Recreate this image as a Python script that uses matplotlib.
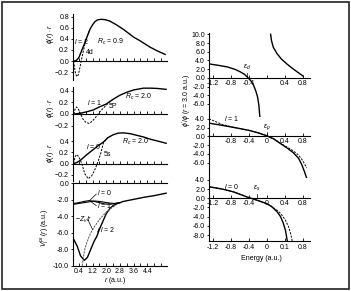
import matplotlib
matplotlib.use("Agg")
import matplotlib.pyplot as plt
from matplotlib.patches import Rectangle

plt.rcParams['font.family'] = ['Liberation Sans', 'DejaVu Sans']
plt.rcParams['mathtext.fontset'] = 'custom'
plt.rcParams['mathtext.rm'] = 'Liberation Sans'
plt.rcParams['mathtext.it'] = 'Liberation Sans:italic'
plt.rcParams['font.size'] = 5

# ---- data ----
# left column: radial functions phi(r)*r, pseudo (solid) and all-electron (dashed)
r_4d = [0.1, 0.25, 0.4, 0.57, 0.7, 0.86, 1.05, 1.2, 1.35, 1.5, 1.7, 1.9, 2.2, 2.6, 3.0, 3.6, 4.0, 4.56, 5.0, 5.44]
ps_4d = [0.0, 0.01, 0.06, 0.19, 0.29, 0.42, 0.57, 0.65, 0.71, 0.74, 0.75, 0.745, 0.72, 0.65, 0.57, 0.43, 0.36, 0.25, 0.18, 0.12]
r_4d_ae = [0.1, 0.15, 0.22, 0.3, 0.38, 0.46, 0.55, 0.65, 0.75, 0.86, 1.05]
ae_4d = [0.0, -0.12, -0.24, -0.28, -0.24, -0.12, 0.02, 0.16, 0.3, 0.42, 0.57]

r_5p = [0.1, 0.3, 0.6, 0.9, 1.25, 1.6, 2.0, 2.4, 2.8, 3.2, 3.6, 4.17, 4.6, 5.0, 5.5]
ps_5p = [0.0, 0.005, 0.02, 0.04, 0.07, 0.12, 0.17, 0.25, 0.32, 0.37, 0.41, 0.44, 0.44, 0.435, 0.42]
r_5p_ae = [0.1, 0.18, 0.27, 0.38, 0.5, 0.65, 0.8, 1.0, 1.2, 1.4, 1.6, 1.8, 2.0, 2.2, 2.4]
ae_5p = [0.0, 0.08, 0.12, 0.08, 0.0, -0.09, -0.14, -0.16, -0.12, -0.05, 0.03, 0.09, 0.15, 0.21, 0.25]

r_5s = [0.1, 0.3, 0.5, 0.8, 1.0, 1.25, 1.5, 1.83, 2.1, 2.4, 2.7, 3.0, 3.4, 3.8, 4.2, 4.6, 5.0, 5.5]
ps_5s = [0.0, 0.02, 0.06, 0.14, 0.19, 0.25, 0.31, 0.38, 0.46, 0.51, 0.54, 0.545, 0.53, 0.5, 0.47, 0.43, 0.4, 0.36]
r_5s_ae = [0.1, 0.18, 0.27, 0.4, 0.57, 0.75, 0.95, 1.15, 1.35, 1.54, 1.7, 1.83, 2.0, 2.1]
ae_5s = [0.0, 0.12, 0.16, 0.12, 0.0, -0.18, -0.27, -0.22, -0.1, 0.05, 0.2, 0.36, 0.43, 0.46]

# pseudopotentials V_l(r)
r_v = [0.1, 0.3, 0.5, 0.72, 0.9, 1.1, 1.3, 1.44, 1.6, 1.83, 2.0, 2.22, 2.4, 2.6, 3.0, 3.6, 4.2, 4.8, 5.5]
v_l2 = [-6.8, -7.6, -8.8, -9.35, -9.0, -8.0, -7.0, -6.5, -5.6, -4.5, -3.7, -3.05, -2.7, -2.5, -2.2, -1.95, -1.7, -1.5, -1.2]
r_v01 = [0.1, 0.4, 0.7, 1.0, 1.3, 1.6, 1.9, 2.2, 2.5, 2.8]
v_l0 = [-2.45, -2.35, -2.2, -2.1, -2.2, -2.35, -2.5, -2.55, -2.45, -2.35]
v_l1 = [-2.55, -2.45, -2.35, -2.25, -2.15, -2.2, -2.3, -2.4, -2.45, -2.35]
r_zv = [0.6, 0.68, 0.76, 0.9, 1.1, 1.3, 1.64, 2.0, 2.3, 2.6]
v_zv = [-10.0, -8.8, -7.9, -7.0, -6.0, -5.3, -4.3, -3.5, -3.0, -2.6]

# right column: logarithmic derivatives vs energy
e_d_lo = [-1.29, -1.1, -0.88, -0.7, -0.6, -0.5, -0.42, -0.35, -0.3, -0.25, -0.21, -0.18, -0.16]
ld_d_lo = [3.2, 2.9, 2.5, 1.9, 1.4, 0.8, 0.0, -0.8, -1.7, -3.0, -4.4, -6.4, -9.0]
e_d_hi = [0.08, 0.1, 0.14, 0.22, 0.32, 0.44, 0.56, 0.68, 0.8]
ld_d_hi = [10.0, 8.5, 7.0, 5.6, 4.3, 3.2, 2.2, 1.3, 0.4]

e_p = [-1.29, -1.0, -0.7, -0.4, -0.2, 0.0, 0.15, 0.29, 0.45, 0.58, 0.7, 0.77, 0.83, 0.88]
ld_p_ps = [3.0, 2.5, 1.95, 1.35, 0.8, 0.1, -0.6, -1.6, -2.7, -3.7, -5.0, -6.4, -8.0, -9.5]
ld_p_ae = [4.0, 2.7, 1.95, 1.35, 0.8, 0.1, -0.6, -1.5, -2.5, -3.3, -4.3, -5.2, -6.2, -7.2]

e_s_ps = [-1.29, -1.0, -0.75, -0.45, -0.2, 0.0, 0.1, 0.22, 0.3, 0.36, 0.41, 0.45]
ld_s_ps = [2.5, 2.0, 1.4, 0.3, -0.5, -1.2, -1.8, -2.9, -4.0, -5.4, -7.0, -9.3]
e_s_ae = [-1.29, -1.0, -0.75, -0.45, -0.2, 0.0, 0.1, 0.22, 0.3, 0.4, 0.47, 0.52, 0.56]
ld_s_ae = [2.5, 2.0, 1.4, 0.3, -0.5, -1.2, -1.8, -2.6, -3.3, -4.6, -6.0, -7.5, -9.3]

e_ticks = [-1.2, -0.8, -0.4, 0.0, 0.4, 0.8]

W, H = 351, 291
fig = plt.figure(figsize=(W / 100, H / 100), dpi=100)


def px_axes(x0, y0, x1, y1):
    return fig.add_axes([x0 / W, 1 - y1 / H, (x1 - x0) / W, (y1 - y0) / H])


def style(ax, zero=True):
    ax.patch.set_alpha(0)
    ax.spines['top'].set_visible(False)
    ax.spines['right'].set_visible(False)
    if zero:
        ax.spines['bottom'].set_position(('data', 0))
    for s in ax.spines.values():
        s.set_linewidth(0.8)
    ax.tick_params(axis='y', direction='out', length=1.8, width=0.6, pad=1, labelsize=5)
    ax.tick_params(axis='x', direction='in', length=2, width=0.6, pad=1.5, labelsize=5)


solid = dict(color='black', lw=1.0)
dash = dict(color='black', lw=0.7, ls=(0, (2.2, 1.3)))
rlim = (0.06, 5.55)
r_minor = [0.4 * i for i in range(1, 14)]

# --- left panel 1: 4d ---
ax = px_axes(73, 14, 167, 80)
ax.plot(r_4d, ps_4d, **solid)
ax.plot(r_4d_ae, ae_4d, **dash)
ax.set_xlim(rlim); ax.set_ylim(-0.34, 0.845)
style(ax)
ax.set_yticks([-0.2, 0, 0.2, 0.4, 0.6, 0.8])
ax.set_xticks(r_minor); ax.set_xticklabels([])
ax.text(0.1, 0.35, '$l$ = 2', va='center')
ax.text(1.45, 0.35, '$R_c$ = 0.9', va='center')
ax.text(0.82, 0.15, '4d', va='center')

# --- left panel 2: 5p ---
ax = px_axes(73, 87, 167, 131)
ax.plot(r_5p, ps_5p, **solid)
ax.plot(r_5p_ae, ae_5p, **dash)
ax.set_xlim(rlim); ax.set_ylim(-0.29, 0.46)
style(ax)
ax.set_yticks([-0.2, 0, 0.2, 0.4])
ax.set_xticks(r_minor); ax.set_xticklabels([])
ax.text(0.86, 0.19, '$l$ = 1', va='center')
ax.text(3.1, 0.29, '$R_c$ = 2.0', va='center')
ax.text(2.12, 0.12, '5P', va='center')

# --- left panel 3: 5s ---
ax = px_axes(73, 132, 167, 181)
ax.plot(r_5s, ps_5s, **solid)
ax.plot(r_5s_ae, ae_5s, **dash)
ax.set_xlim(rlim); ax.set_ylim(-0.31, 0.56)
style(ax)
ax.set_yticks([-0.2, 0, 0.2, 0.4])
ax.set_xticks(r_minor); ax.set_xticklabels([])
ax.text(0.82, 0.3, '$l$ = 0', va='center')
ax.text(2.9, 0.38, '$R_c$ = 2.0', va='center')
ax.text(1.83, 0.16, '5s', va='center')

# --- left panel 4: pseudopotentials ---
ax = px_axes(73, 183.3, 167, 265.7)
ax.plot(r_v, v_l2, **solid)
ax.plot(r_v01, v_l0, color='black', lw=0.8)
ax.plot(r_v01, v_l1, color='black', lw=0.8)
ax.plot(r_zv, v_zv, color='#555555', lw=0.7, ls=(0, (2.2, 1.0)))
ax.set_xlim(rlim); ax.set_ylim(-10.0, 0.0)
style(ax, zero=False)
ax.set_yticks([-10, -8, -6, -4, -2, 0])
ax.set_yticklabels(['-10.0', '-8.0', '-6.0', '-4.0', '-2.0', '0.0'])
ax.set_xticks(r_minor)
ax.set_xticklabels(['%.1f' % t if i % 2 == 0 and t < 5 else '' for i, t in enumerate(r_minor)])
top = ax.secondary_xaxis('top')
top.set_xticks(r_minor); top.set_xticklabels([])
top.tick_params(direction='out', length=2, width=0.6)
top.spines['top'].set_linewidth(0.8)
ax.text(1.45, -1.1, '$l$ = 0', va='center')
ax.plot([1.42, 1.05], [-1.3, -2.05], color='black', lw=0.5)
ax.text(1.45, -2.75, '$l$ = 1', va='center')
ax.plot([1.42, 1.15], [-2.7, -2.3], color='black', lw=0.5)
ax.text(0.2, -4.4, '$-Z_v/r$', va='center')
ax.plot([0.95, 1.2], [-4.5, -5.6], color='black', lw=0.5)
ax.text(1.64, -5.6, '$l$ = 2', va='center')
ax.plot([1.6, 1.5], [-5.4, -5.9], color='black', lw=0.5)

fig.text(50 / W, 1 - 34 / H, r'$\phi(r)\cdot r$', rotation=90, ha='center', va='center')
fig.text(50 / W, 1 - 108 / H, r'$\phi(r)\cdot r$', rotation=90, ha='center', va='center')
fig.text(50 / W, 1 - 153 / H, r'$\phi(r)\cdot r$', rotation=90, ha='center', va='center')
fig.text(45 / W, 1 - 228 / H, r'$V_l^{ps}\,(r)$ (a.u.)', rotation=90, ha='center', va='center')
fig.text(115 / W, 1 - 280 / H, '$r$ (a.u.)', ha='center', va='center')

# --- right panel 1: d ---
elim = (-1.29, 0.955)
ax = px_axes(209, 33, 310, 117)
ax.plot(e_d_lo, ld_d_lo, **solid)
ax.plot(e_d_hi, ld_d_hi, **solid)
ax.set_xlim(elim); ax.set_ylim(-9.0, 10.3)
style(ax)
ax.set_yticks([-6, -4, -2, 0, 2, 4, 6, 8, 10])
ax.set_yticklabels(['%.1f' % t for t in [-6, -4, -2, 0, 2, 4, 6, 8, 10]])
ax.set_xticks(e_ticks)
ax.set_xticklabels(['-1.2', '-0.8', '-0.4', '', '0.4', '0.8'])
ax.text(-0.44, 2.3, r'$\varepsilon_d$', ha='center', va='center')
ax.plot([-0.44, -0.44], [0, 1.0], color='black', lw=0.5)

# --- right panel 2: p ---
ax = px_axes(209, 117, 310, 178)
ax.plot(e_p, ld_p_ps, **solid)
ax.plot(e_p, ld_p_ae, **dash)
ax.set_xlim(elim); ax.set_ylim(-9.5, 4.4)
style(ax)
ax.set_yticks([-6, -4, -2, 0, 2, 4])
ax.set_yticklabels(['%.1f' % t for t in [-6, -4, -2, 0, 2, 4]])
ax.set_xticks(e_ticks)
ax.set_xticklabels(['', '-0.8', '-0.4', '0', '0.4', '0.8'])
ax.text(-0.95, 4.0, '$l$ = 1', va='center')
ax.text(0.0, 2.2, r'$\varepsilon_p$', ha='center', va='center')
ax.plot([0.0, 0.0], [0, 1.0], color='black', lw=0.5)

# --- right panel 3: s ---
ax = px_axes(209, 178, 310, 241)
ax.plot(e_s_ps, ld_s_ps, **solid)
ax.plot(e_s_ae, ld_s_ae, **dash)
ax.set_xlim(elim); ax.set_ylim(-9.3, 4.4)
style(ax)
ax.set_yticks([-8, -6, -4, -2, 0, 2, 4])
ax.set_yticklabels(['%.1f' % t for t in [-8, -6, -4, -2, 0, 2, 4]])
ax.set_xticks(e_ticks)
ax.set_xticklabels(['-1.2', '-0.8', '-0.4', '0', '0.4', '0.8'])
bot = ax.secondary_xaxis(0.0)
bot.set_xticks(e_ticks)
bot.set_xticklabels(['-1.2', '-0.8', '-0.4', '0', '0.1', '0.8'])
bot.tick_params(direction='in', length=2, width=0.6, pad=2, labelsize=5)
bot.spines['bottom'].set_linewidth(0.8)
ax.text(-0.95, 2.5, '$l$ = 0', va='center')
ax.text(-0.22, 2.2, r'$\varepsilon_s$', ha='center', va='center')
ax.plot([-0.22, -0.22], [0, 1.0], color='black', lw=0.5)

fig.text(187 / W, 1 - 100 / H, r"$\phi'/\phi\ (r$ = 3.0 a.u.)", rotation=90, ha='center', va='center')
fig.text(261 / W, 1 - 258 / H, 'Energy (a.u.)', ha='center', va='center')

fig.patches.append(Rectangle((2 / W, 2 / H), (W - 4) / W, (H - 4) / H, transform=fig.transFigure,
                             fill=False, edgecolor='#222222', lw=1.2))

fig.savefig('out.png', dpi=100)
